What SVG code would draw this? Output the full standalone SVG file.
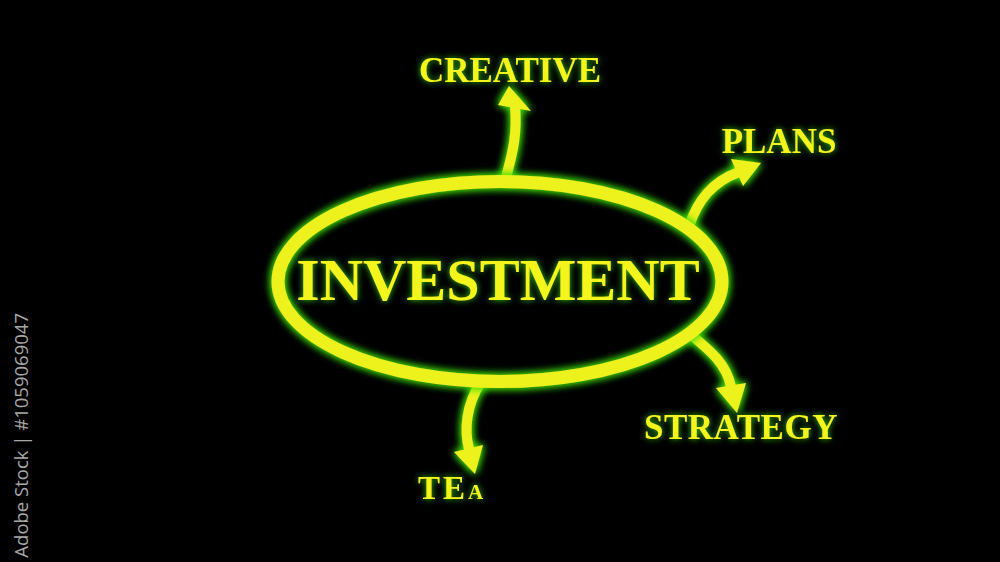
<svg xmlns="http://www.w3.org/2000/svg" width="1000" height="562" viewBox="0 0 1000 562">
  <defs>
    <filter id="glow" x="-30%" y="-30%" width="160%" height="160%">
      <feGaussianBlur in="SourceAlpha" stdDeviation="4" result="b"/>
      <feFlood flood-color="#3fe000" flood-opacity="1"/>
      <feComposite in2="b" operator="in" result="g"/>
      <feMerge>
        <feMergeNode in="g"/>
        <feMergeNode in="g"/>
        <feMergeNode in="SourceGraphic"/>
      </feMerge>
    </filter>
    <filter id="glowtxt" x="-20%" y="-40%" width="140%" height="180%">
      <feGaussianBlur in="SourceAlpha" stdDeviation="3" result="b"/>
      <feFlood flood-color="#3fe000" flood-opacity="0.9"/>
      <feComposite in2="b" operator="in" result="g"/>
      <feMerge>
        <feMergeNode in="g"/>
        <feMergeNode in="SourceGraphic"/>
      </feMerge>
    </filter>
    <style>
      .lbl { font-family: "Liberation Serif", "Times New Roman", serif; font-weight: bold; fill: #f4f51c; }
      .ring { fill: none; stroke: #eef21c; stroke-width: 13; }
      .shaft { fill: none; stroke: #eef21c; stroke-width: 10; stroke-linecap: butt; }
      .head { fill: #eef21c; }
      .wm { font-family: "Open Sans", "DejaVu Sans", sans-serif; font-size: 18.5px; fill: #a8a8a8; }
    </style>
  </defs>
  <rect width="1000" height="562" fill="#000"/>

  <text class="wm" transform="translate(28,313) rotate(-90)" text-anchor="end">Adobe Stock | #1059069047</text>

  <g id="connectors" filter="url(#glow)">
    <path class="shaft" d="M 505 182 C 510 160, 518 140, 515 106"/>
    <polygon class="head" points="509,86 498,105 531,111"/>
    <path class="shaft" d="M 689 226 C 698 200, 712 182, 739 172"/>
    <polygon class="head" points="761,163 731,159 743,186"/>
    <path class="shaft" d="M 690 334 C 712 352, 727 365, 731 387"/>
    <polygon class="head" points="737,413 716,388 746,383"/>
    <path class="shaft" d="M 481 382 C 466 405, 464 430, 469 449"/>
    <polygon class="head" points="475,474 454,452 483,445"/>
  </g>

  <g id="node-investment">
    <ellipse class="ring" cx="500" cy="281.5" rx="222" ry="100" filter="url(#glow)"/>
    <text class="lbl" x="498" y="300" font-size="60" text-anchor="middle" filter="url(#glowtxt)">INVESTMENT</text>
  </g>

  <g id="node-creative" filter="url(#glowtxt)">
    <text class="lbl" x="510" y="82" font-size="35" text-anchor="middle">CREATIVE</text>
  </g>

  <g id="node-plans" filter="url(#glowtxt)">
    <text class="lbl" x="779" y="153" font-size="35" text-anchor="middle">PLANS</text>
  </g>

  <g id="node-strategy" filter="url(#glowtxt)">
    <text class="lbl" x="741" y="439" font-size="35" text-anchor="middle" letter-spacing="0.5">STRATEGY</text>
  </g>

  <g id="node-tea" filter="url(#glowtxt)">
    <text class="lbl" x="418" y="499" font-size="33" letter-spacing="3">TE<tspan font-size="21" letter-spacing="0">A</tspan></text>
  </g>
</svg>
